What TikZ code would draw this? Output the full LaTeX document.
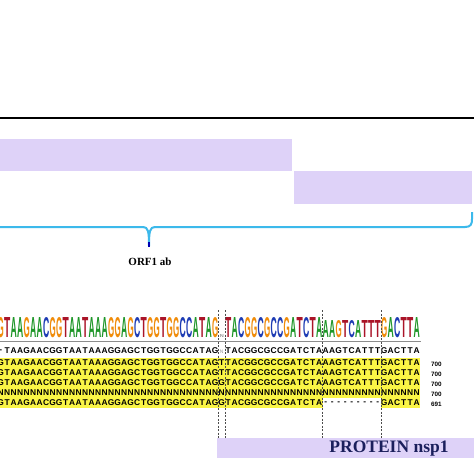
\documentclass[tikz,border=0pt]{standalone}
\usepackage{fontspec}
\setmainfont{Liberation Serif}
\setsansfont{Liberation Sans}
\definecolor{lA}{RGB}{30,150,40}
\definecolor{lC}{RGB}{30,60,180}
\definecolor{lG}{RGB}{240,140,10}
\definecolor{lT}{RGB}{170,20,40}
\definecolor{lN}{RGB}{150,150,150}
\definecolor{lavender}{RGB}{222,210,248}
\definecolor{hiyel}{RGB}{250,245,70}
\definecolor{bracecol}{RGB}{60,185,235}
\definecolor{navy}{RGB}{27,31,92}
\newcount\seqi
\def\seqy{0}
\def\seqloop#1{\ifx#1\relax\else\seqput{#1}\expandafter\seqloop\fi}
\newcommand\seqrow[3]{\global\seqi=#2\relax\def\seqy{#1}\seqloop#3\relax}
\newcommand\seqput[1]{\node[seqch] at ({4+6.5*(\the\seqi+0.5)},\seqy) {#1};\global\advance\seqi by 1\relax}
\def\logoh{20pt}
\def\logoloop#1{\ifx#1\relax\else\logoput{#1}\expandafter\logoloop\fi}
\newcommand\logorow[4]{\global\seqi=#3\relax\def\seqy{#2}\def\logoh{#1}\logoloop#4\relax}
\newcommand\logoput[1]{\node[anchor=south,inner sep=0,text=l#1] at ({4+6.5*(\the\seqi+0.5)},\seqy) {\resizebox{6.2pt}{\logoh}{\sffamily\bfseries #1}};\global\advance\seqi by 1\relax}
\tikzset{
  seqch/.style={inner sep=0,font=\sffamily\bfseries\fontsize{8.4}{9}\selectfont},
  numlab/.style={anchor=west,inner sep=0,font=\sffamily\bfseries\fontsize{6.3}{7}\selectfont},
  vdash/.style={draw=black!70,dash pattern=on 2pt off 1.5pt,line width=0.6pt},
  bar/.style={fill=lavender,draw=none},
  brace/.style={draw=bracecol,line width=2pt,line join=round},
}
\begin{document}
\begin{tikzpicture}[x=1pt,y=-1pt]
\useasboundingbox (0,0) rectangle (474,474);
\clip (0,0) rectangle (474,474);
\fill[white] (0,0) rectangle (474,474);
% top genome line
\coordinate (gl) at (0,118); \coordinate (gr) at (474,118);
\draw[line width=1.5pt] (gl) -- (gr);
% lavender bars
\node[bar,inner sep=0,minimum width=292pt,minimum height=32pt,anchor=north west] (b1) at (0,139) {};
\node[bar,inner sep=0,minimum width=178pt,minimum height=33pt,anchor=north west] (b2) at (294,171) {};
% brace
\coordinate (bl) at (0,227); \coordinate (btip) at (149,246); \coordinate (br) at (472,212);
\draw[brace] (bl) -- (143,227) .. controls (148,227) and (149,231) .. (btip) .. controls (149,231) and (150,227) .. (155,227) -- (465,227) .. controls (471,227) and (472,224) .. (472,219) -- (br);
\fill[blue!70!black] (147.8,242) rectangle (150.2,247);
\node[font=\bfseries\fontsize{11}{12}\selectfont,inner sep=0] (orf) at (150,262) {ORF1 ab};
% logo
\logorow{20pt}{338}{-1}{GTAAGAACGGTAATAAAGGAGCTGGTGGCCATAG}
\node[anchor=south,inner sep=0,text=lN] (vlogo) at ({4+6.5*33.5},338) {\resizebox{4pt}{3pt}{\sffamily\bfseries N}};
\logorow{20pt}{338}{34}{TACGGCGCCGATCTA}
\logorow{17pt}{338}{49}{AAGTCATTT}
\logorow{20pt}{338}{58}{GACTTA}
\coordinate (cl) at (0,341); \coordinate (cr) at (421,341);
\draw[black!45,line width=0.7pt] (cl) -- (cr);
% highlight
\fill[hiyel] (0,358) rectangle (420,398);
\fill[hiyel] (0,398) rectangle (322.5,408);
\fill[hiyel] (381,398) rectangle (420,408);
% sequences
\seqrow{351}{-1}{-TAAGAACGGTAATAAAGGAGCTGGTGGCCATAG}
\node[inner sep=0,text=lN,font=\sffamily\fontsize{5}{5}\selectfont] (vcons) at ({4+6.5*33.5},351.5) {N};
\seqrow{351}{34}{TACGGCGCCGATCTAAAGTCATTTGACTTA}
\seqrow{363}{-1}{GTAAGAACGGTAATAAAGGAGCTGGTGGCCATAGTTACGGCGCCGATCTAAAGTCATTTGACTTA}
\seqrow{373}{-1}{GTAAGAACGGTAATAAAGGAGCTGGTGGCCATAGTTACGGCGCCGATCTAAAGTCATTTGACTTA}
\seqrow{383}{-1}{GTAAGAACGGTAATAAAGGAGCTGGTGGCCATAGGTACGGCGCCGATCTAAAGTCATTTGACTTA}
\seqrow{393}{-1}{NNNNNNNNNNNNNNNNNNNNNNNNNNNNNNNNNNNNNNNNNNNNNNNNNNNNNNNNNNNNNNNNN}
\seqrow{403}{-1}{GTAAGAACGGTAATAAAGGAGCTGGTGGCCATAGGTACGGCGCCGATCTA---------GACTTA}
\node[numlab] (n1) at (431,364) {700};
\node[numlab] (n2) at (431,374) {700};
\node[numlab] (n3) at (431,384) {700};
\node[numlab] (n4) at (431,394) {700};
\node[numlab] (n5) at (431,404) {691};
% dashed guides
\foreach \xx [count=\k] in {218.5,225,322.5,381}{
  \coordinate (dt\k) at (\xx,310); \coordinate (db\k) at (\xx,438);
  \draw[vdash] (dt\k) -- (db\k);
}
% protein bar
\node[bar,inner sep=0,minimum width=257pt,minimum height=20pt,anchor=north west] (pb) at (217,438) {};
\node[text=navy,font=\bfseries\fontsize{17.5}{18}\selectfont,inner sep=0] (pt) at (389,448.5) {PROTEIN nsp1};
\end{tikzpicture}
\end{document}
